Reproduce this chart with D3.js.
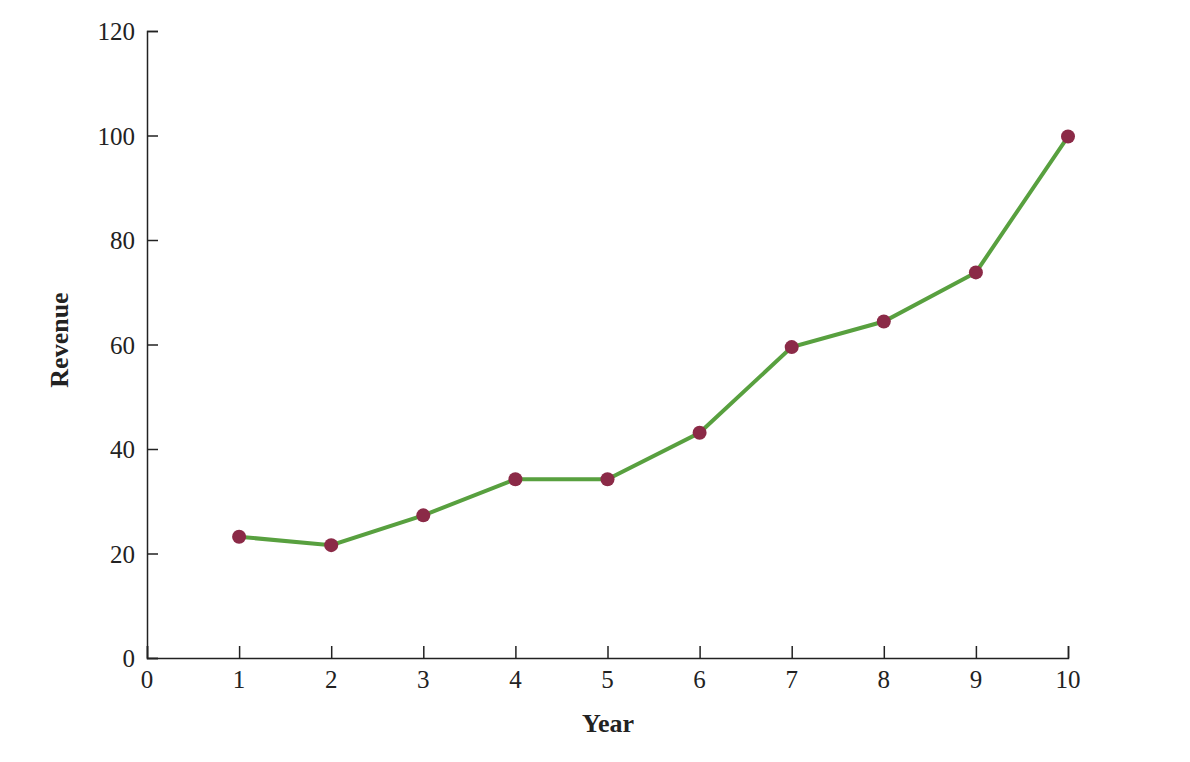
<!DOCTYPE html>
<html><head><meta charset="utf-8">
<script src="https://cdn.jsdelivr.net/npm/d3@7"></script>
<style>body{margin:0;background:#fff}</style>
</head><body>
<script>
let years = [1,2,3,4,5,6,7,8,9,10];
let revenue = [23.2,21.6,27.3,34.2,34.2,43.1,59.5,64.4,73.8,99.8];
let xTicks = [0,1,2,3,4,5,6,7,8,9,10];
let yTicks = [0,20,40,60,80,100,120];

let w = 1190, h = 762;
let svg = d3.select("body").append("svg").attr("width", w).attr("height", h)
  .style("font-family", "'Liberation Serif', 'Times New Roman', serif");

let x = d3.scaleLinear().domain([0,10]).range([147,1068]);
let y = d3.scaleLinear().domain([0,120]).range([658,31]);

let xAxis = svg.append("g").attr("transform", `translate(0,${y(0)})`)
  .call(d3.axisTop(x).tickValues(xTicks).tickSize(12).tickFormat(""));
let yAxis = svg.append("g").attr("transform", `translate(${x(0)},0)`)
  .call(d3.axisRight(y).tickValues(yTicks).tickSize(11).tickFormat(""));
[xAxis, yAxis].forEach(a => {
  a.selectAll("path").attr("stroke", "#222").attr("stroke-width", 1.5);
  a.selectAll("line").attr("stroke", "#222").attr("stroke-width", 1.5);
});

svg.selectAll(".xl").data(xTicks).join("text")
  .attr("x", d => x(d)).attr("y", y(0) + 30).attr("text-anchor", "middle")
  .attr("font-size", 25).attr("fill", "#222").text(d => d);
svg.selectAll(".yl").data(yTicks).join("text")
  .attr("x", x(0) - 12).attr("y", d => y(d) + 9).attr("text-anchor", "end")
  .attr("font-size", 25).attr("fill", "#222").text(d => d);

svg.append("text").attr("x", 608).attr("y", 732).attr("text-anchor", "middle")
  .attr("font-size", 26).attr("font-weight", "bold").attr("fill", "#222").text("Year");
svg.append("text").attr("transform", "translate(68,340) rotate(-90)").attr("text-anchor", "middle")
  .attr("font-size", 26).attr("font-weight", "bold").attr("fill", "#222").text("Revenue");

svg.append("path").datum(years.map((d,i) => [d, revenue[i]]))
  .attr("fill", "none").attr("stroke", "#58a03f").attr("stroke-width", 4)
  .attr("d", d3.line().x(d => x(d[0])).y(d => y(d[1])));
svg.selectAll(".pt").data(years).join("circle")
  .attr("cx", d => x(d)).attr("cy", (d,i) => y(revenue[i])).attr("r", 7)
  .attr("fill", "#8b2a47");
</script>
</body></html>
